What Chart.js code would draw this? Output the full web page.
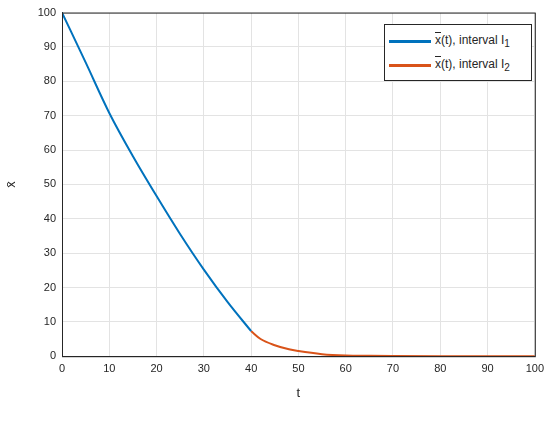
<!DOCTYPE html>
<html>
<head>
<meta charset="utf-8">
<script src="https://cdn.jsdelivr.net/npm/chart.js@4/dist/chart.umd.min.js"></script>
<style>
  body { margin: 0; background: #fff; font-family: "Liberation Sans", Arial, sans-serif; }
  #wrap { position: relative; width: 550px; height: 439px; }
  #legend { position: absolute; left: 384px; top: 24px; width: 148px; height: 57px; background: #fff;
    border: 1px solid #262626; box-sizing: border-box; font-size: 12px; color: #262626; }
  .row { position: absolute; left: 4px; height: 20px; display: flex; align-items: center; }
  .sw { width: 42px; height: 3px; margin-right: 4px; }
  .ov { text-decoration: overline; }
</style>
</head>
<body>
<div id="wrap">
  <canvas id="c" width="550" height="439"></canvas>
  <div id="legend">
    <div class="row" style="top:6px"><span class="sw" style="background:#0072BD"></span><span><span class="ov">x</span>(t), interval I<sub>1</sub></span></div>
    <div class="row" style="top:30px"><span class="sw" style="background:#D95319"></span><span><span class="ov">x</span>(t), interval I<sub>2</sub></span></div>
  </div>
</div>
<script>
const tInterval1 = [0, 5, 10, 15, 20, 25, 30, 35, 40];
const xInterval1 = [100, 85.5, 70.8, 58.2, 46.6, 35.5, 25.2, 15.8, 7.3];
const tInterval2 = [40, 42, 45, 48, 50, 55, 60, 65, 70, 80, 90, 100];
const xInterval2 = [7.3, 5.0, 3.2, 2.0, 1.5, 0.6, 0.2, 0.1, 0.05, 0.01, 0, 0];
const xTicks = [0, 10, 20, 30, 40, 50, 60, 70, 80, 90, 100];
const yTicks = [0, 10, 20, 30, 40, 50, 60, 70, 80, 90, 100];

const toPoints = (xs, ys) => xs.map((x, i) => ({ x: x, y: ys[i] }));
const font = { family: '"Liberation Sans", Arial, sans-serif', size: 11 };

// MATLAB-style box around the plot area
const boxPlugin = {
    id: 'box',
    afterDraw(chart) {
        const a = chart.chartArea, ctx = chart.ctx;
        ctx.save();
        ctx.strokeStyle = '#262626';
        ctx.lineWidth = 1;
        ctx.strokeRect(a.left + 0.5, a.top + 0.5, a.right - a.left, a.bottom - a.top);
        ctx.restore();
    }
};

new Chart(document.getElementById('c').getContext('2d'), {
    type: 'line',
    data: {
        datasets: [
            { data: toPoints(tInterval1, xInterval1), borderColor: '#0072BD', borderWidth: 2, pointRadius: 0, cubicInterpolationMode: 'monotone' },
            { data: toPoints(tInterval2, xInterval2), borderColor: '#D95319', borderWidth: 2, pointRadius: 0, cubicInterpolationMode: 'monotone' }
        ]
    },
    options: {
        responsive: false,
        animation: false,
        layout: { padding: { top: 12, right: 15, bottom: 34 } },
        plugins: { legend: { display: false }, tooltip: { enabled: false } },
        scales: {
            x: {
                type: 'linear', min: 0, max: 100,
                afterBuildTicks: axis => { axis.ticks = xTicks.map(v => ({ value: v })); },
                grid: { color: '#e3e3e3', drawTicks: false },
                border: { color: '#262626' },
                ticks: { color: '#262626', font: font, padding: 6, maxRotation: 0 },
                title: { display: true, text: 't', color: '#262626', font: { family: font.family, size: 13 }, padding: { top: 4 } }
            },
            y: {
                min: 0, max: 100,
                afterBuildTicks: axis => { axis.ticks = yTicks.map(v => ({ value: v })); },
                afterFit: axis => { axis.width = 62; },
                grid: { color: '#e3e3e3', drawTicks: false },
                border: { color: '#262626' },
                ticks: { color: '#262626', font: font, padding: 6 },
                title: { display: true, text: 'x\u0304', color: '#262626', font: { family: font.family, size: 13 }, padding: { bottom: 4 } }
            }
        }
    },
    plugins: [boxPlugin]
});
</script>
</body>
</html>
